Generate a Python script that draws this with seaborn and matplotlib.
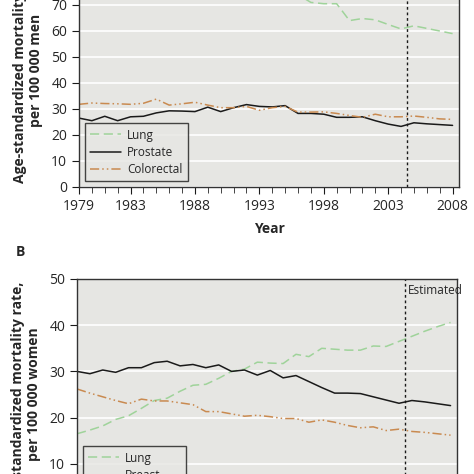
import numpy as np
import pandas as pd
import matplotlib
matplotlib.use("Agg")
import matplotlib.pyplot as plt
import seaborn as sns

years = list(range(1979, 2009))
men_lung = [72, 75, 77, 79, 80, 81, 82, 83, 84, 84, 84, 83, 83, 82, 81, 80, 78, 74, 71,
            70.5, 70.5, 64, 64.8, 64.3, 62.5, 60.8, 62, 61, 60, 59]
men_prostate = [26.5, 25.5, 27.2, 25.5, 27, 27.2, 28.5, 29.3, 29.2, 29, 30.7, 29, 30.5, 31.7, 31,
                30.8, 31.3, 28.3, 28.3, 28, 26.8, 26.8, 27, 25.5, 24.2, 23.3, 24.7, 24.3, 24, 23.7]
men_colorectal = [31.8, 32.3, 32.1, 32, 31.8, 32.2, 33.8, 31.5, 32, 32.6, 31.5, 30.5, 30.5, 31, 29.5,
                  30.5, 31, 28.8, 28.8, 28.9, 28.3, 27.5, 26.8, 28, 27, 27, 27.3, 26.8, 26.2, 26]
women_lung = [16.5, 17.3, 18.2, 19.6, 20.4, 22, 23.7, 24.2, 25.7, 27, 27.2, 28.5, 30, 30.5, 32,
              31.8, 31.7, 33.7, 33.2, 35, 34.8, 34.6, 34.6, 35.5, 35.4, 36.5, 37.6, 38.7, 39.7, 40.6]
women_breast = [30, 29.5, 30.3, 29.8, 30.8, 30.8, 31.9, 32.2, 31.2, 31.5, 30.8, 31.4, 30, 30.3, 29.2,
                30.2, 28.6, 29.1, 27.8, 26.5, 25.3, 25.3, 25.2, 24.5, 23.8, 23.1, 23.7, 23.4, 23, 22.6]
women_colorectal = [26.2, 25.3, 24.5, 23.7, 23, 24, 23.6, 23.6, 23.2, 22.8, 21.3, 21.3, 20.8, 20.3, 20.5,
                    20.2, 19.8, 19.8, 19, 19.5, 19, 18.3, 17.8, 18, 17.2, 17.5, 17, 16.8, 16.5, 16.2]
tick_years = [1979, 1983, 1988, 1993, 1998, 2003, 2008]
estimate_year = 2004.5

sns.set_style("ticks")
plt.rcParams['font.family'] = ['Open Sans', 'DejaVu Sans']

GREEN = "#9fd39a"
BLACK = "#1a1a1a"
BROWN = "#c98a50"
styles = {"dash": (0, (6, 3)), "solid": "-", "dashdot": (0, (6, 2, 1, 2, 1, 2))}

fig = plt.figure(figsize=(4.74, 4.74), dpi=100)
W = H = 474.0


def make_axes(left, top_px, bottom_px, width):
    return fig.add_axes([left / W, (H - bottom_px) / H, width / W, (bottom_px - top_px) / H])


def draw(ax, series, ymax, ylabel):
    ax.set_facecolor("#e6e6e3")
    for name, vals, color, ls in series:
        sns.lineplot(x=years, y=vals, ax=ax, color=color, linestyle=styles[ls], lw=1.1, label=name)
    ax.set_xlim(1979, 2008.5)
    ax.set_ylim(0, ymax)
    ax.set_yticks(range(0, ymax + 1, 10))
    ax.yaxis.grid(True, color="white", lw=1.2)
    ax.set_axisbelow(True)
    ax.set_xticks(tick_years)
    ax.set_xticks(years, minor=True)
    ax.tick_params(labelsize=10, direction="out", length=5, color=BLACK)
    ax.tick_params(which="minor", length=4)
    ax.axvline(estimate_year, color=BLACK, ls=(0, (2, 2)), lw=1)
    for s in ax.spines.values():
        s.set_color("#333333")
        s.set_linewidth(1)
    ax.set_ylabel(ylabel, fontsize=10, fontweight="bold", labelpad=6)
    leg = ax.legend(loc="lower left", fontsize=8.5, frameon=True, fancybox=False,
                    handlelength=2.6, handletextpad=0.5, borderpad=0.45, labelspacing=0.35)
    leg.get_frame().set_edgecolor(BLACK)
    leg.get_frame().set_facecolor("#e6e6e3")
    leg.get_frame().set_linewidth(1)


ax1 = make_axes(79, -47, 187, 380)
draw(ax1, [("Lung", men_lung, GREEN, "dash"),
           ("Prostate", men_prostate, BLACK, "solid"),
           ("Colorectal", men_colorectal, BROWN, "dashdot")],
     90, "Age-standardized mortality rate,\nper 100 000 men")
ax1.set_xlabel("Year", fontsize=10, fontweight="bold", labelpad=6)

ax2 = make_axes(77, 279, 510, 380)
draw(ax2, [("Lung", women_lung, GREEN, "dash"),
           ("Breast", women_breast, BLACK, "solid"),
           ("Colorectal", women_colorectal, BROWN, "dashdot")],
     50, "Age-standardized mortality rate,\nper 100 000 women")
ax2.text(estimate_year + 0.15, 49, "Estimated", fontsize=8.5, va="top", ha="left")
fig.text(16 / W, (H - 252) / H, "B", fontsize=10, fontweight="bold", va="center")

fig.savefig("out.png", dpi=100)
